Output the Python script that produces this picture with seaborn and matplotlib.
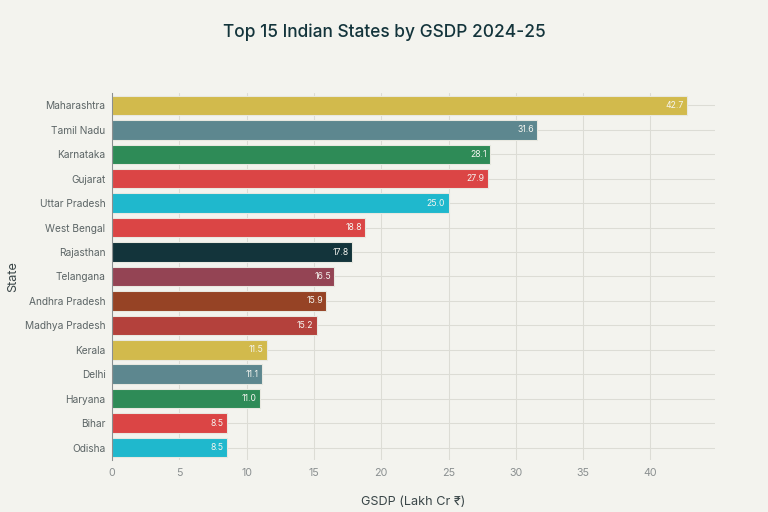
import pandas as pd
import seaborn as sns
import matplotlib.pyplot as plt

states = ['Maharashtra', 'Tamil Nadu', 'Karnataka', 'Gujarat', 'Uttar Pradesh',
          'West Bengal', 'Rajasthan', 'Telangana', 'Andhra Pradesh', 'Madhya Pradesh',
          'Kerala', 'Delhi', 'Haryana', 'Bihar', 'Odisha']
gsdp = [42.7, 31.6, 28.1, 27.9, 25.0, 18.8, 17.8, 16.5, 15.9, 15.2, 11.5, 11.1, 11.0, 8.5, 8.5]

colors = ['#D2BA4C', '#5D878F', '#2E8B57', '#DB4545', '#1FB8CD',
          '#DB4545', '#13343B', '#944454', '#964325', '#B4413C',
          '#D2BA4C', '#5D878F', '#2E8B57', '#DB4545', '#1FB8CD']

df = pd.DataFrame({'State': states, 'GSDP': gsdp})

bg = '#F3F3EE'
sns.set_theme(style='whitegrid')
plt.rcParams['font.family'] = ['Inter', 'DejaVu Sans']

fig = plt.figure(figsize=(8, 512 / 96), dpi=96, facecolor=bg)
ax = fig.add_axes([0.146, 0.102, 0.785, 0.716])
ax.set_facecolor(bg)

sns.barplot(df, x='GSDP', y='State', hue='State', palette=colors, legend=False,
            saturation=1, width=0.8, edgecolor='#E8E8E0', linewidth=0.8, ax=ax)

for bar, v in zip(ax.patches, gsdp):
    ax.text(bar.get_width() - 0.25, bar.get_y() + bar.get_height() / 2, f'{v:.1f}',
            ha='right', va='center', fontsize=6.5, color='#F5F5F0')

ax.set_xlim(0, 44.8)
ax.set_xticks(range(0, 45, 5))
ax.grid(True, color='#DCDCD5', linewidth=0.8)
ax.set_axisbelow(True)
for s in ['top', 'right', 'bottom']:
    ax.spines[s].set_visible(False)
ax.spines['left'].set_color('#8A8F90')
ax.spines['left'].set_linewidth(0.8)
ax.tick_params(axis='y', labelcolor='#5C6566', labelsize=7.6, length=3, width=0.6,
               color='#8A8F90', pad=2)
ax.tick_params(axis='x', labelcolor='#8A8F90', labelsize=8, length=0, pad=6)

ax.set_xlabel('GSDP (Lakh Cr ₹)', fontsize=9.5, color='#3A4648', labelpad=14)
ax.set_ylabel('State', fontsize=9.5, color='#3A4648', labelpad=4)

fig.suptitle('Top 15 Indian States by GSDP 2024-25', x=0.5, y=0.955,
             fontsize=13, color='#13343B', fontweight='medium')

fig.savefig('out.png', dpi=96, facecolor=bg)
